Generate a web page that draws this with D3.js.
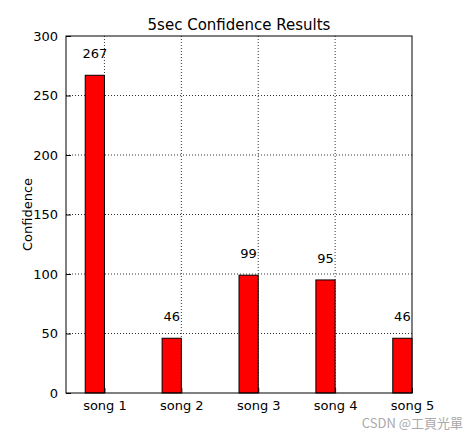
<!DOCTYPE html>
<html><head><meta charset="utf-8">
<script src="https://cdn.jsdelivr.net/npm/d3@7"></script>
<style>body{margin:0;background:#fff}</style></head>
<body><svg id="c" width="474" height="436"></svg>
<script>
const categories=["song 1","song 2","song 3","song 4","song 5"];
const values=[267,46,99,95,46];
const yTicks=[0,50,100,150,200,250,300];
const svg=d3.select("#c");
const L=66,R=412,T=36,B=393;
const x=d3.scaleLinear().domain([-0.5,4]).range([L,R]);
const y=d3.scaleLinear().domain([0,300]).range([B,T]);
const f="DejaVu Sans, sans-serif";
const g=svg.append("g");
// grid
g.selectAll(".gx").data(d3.range(1,4)).join("line").attr("x1",d=>x(d)).attr("x2",d=>x(d)).attr("y1",T).attr("y2",B).attr("stroke","#000").attr("stroke-dasharray","1,2").attr("stroke-width",0.8);
g.selectAll(".gx0").data([0]).join("line").attr("x1",d=>x(d)).attr("x2",d=>x(d)).attr("y1",T).attr("y2",B).attr("stroke","#000").attr("stroke-dasharray","1,2").attr("stroke-width",0.8);
g.selectAll(".gy").data(yTicks.slice(1,-1)).join("line").attr("x1",L).attr("x2",R).attr("y1",d=>y(d)).attr("y2",d=>y(d)).attr("stroke","#000").attr("stroke-dasharray","1,2").attr("stroke-width",0.8);
// bars
g.selectAll("rect.b").data(values).join("rect").attr("x",(d,i)=>x(i-0.25)).attr("width",(d,i)=>x(i)-x(i-0.25)).attr("y",d=>y(d)).attr("height",d=>B-y(d)).attr("fill","#ff0000").attr("stroke","#000").attr("stroke-width",1);
g.selectAll("text.v").data(values).join("text").attr("x",(d,i)=>x(i-0.125)).attr("y",d=>y(d)-17).attr("text-anchor","middle").attr("font-family",f).attr("font-size",13).text(d=>d);
// frame
svg.append("rect").attr("x",L).attr("y",T).attr("width",R-L).attr("height",B-T).attr("fill","none").attr("stroke","#000");
// axes
const ya=svg.append("g").attr("transform",`translate(${L},0)`).call(d3.axisLeft(y).tickValues(yTicks).tickSizeInner(-5).tickSizeOuter(0).tickPadding(8));
ya.select(".domain").remove();
ya.selectAll("text").attr("font-family",f).attr("font-size",13);
const xa=svg.append("g").attr("transform",`translate(0,${B})`).call(d3.axisBottom(x).tickValues(d3.range(5)).tickFormat((d,i)=>categories[i]).tickSizeInner(-5).tickSizeOuter(0).tickPadding(8));
xa.select(".domain").remove();
xa.selectAll("text").attr("font-family",f).attr("font-size",13).attr("fill","#000");
svg.append("text").attr("x",(L+R)/2).attr("y",30).attr("text-anchor","middle").attr("font-family",f).attr("font-size",15).text("5sec Confidence Results");
svg.append("text").attr("transform",`translate(32,${(T+B)/2}) rotate(-90)`).attr("text-anchor","middle").attr("font-family",f).attr("font-size",13).text("Confidence");
svg.append("text").attr("x",463).attr("y",428).attr("text-anchor","end").attr("font-family","Noto Sans CJK SC, sans-serif").attr("font-size",13).attr("fill","#aaa").text("CSDN @工頁光單");
</script></body></html>
